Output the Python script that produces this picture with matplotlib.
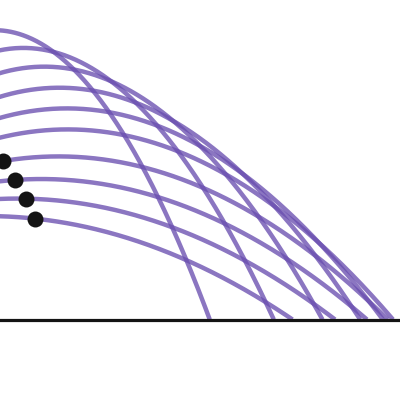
import numpy as np
import matplotlib
matplotlib.use("Agg")
import matplotlib.pyplot as plt

# Launch angles (degrees), one per trajectory
angles_deg = [21.8, 26.9, 31.9, 37.2, 43.2, 47.8, 52.4, 57.3, 62.0, 67.0]
launch_speed = 71.7      # same speed for every projectile
gravity = 9.81
launch_height = 67.3     # above the ground line
snapshot_time = 3.44     # time at which the projectile markers are shown

# visible window of the scene
view_x = (193.9, 593.9)
view_y = (-80.5, 319.5)

fig = plt.figure(figsize=(4, 4), dpi=100)
ax = fig.add_axes([0, 0, 1, 1])
ax.set_xlim(*view_x)
ax.set_ylim(*view_y)
ax.axis('off')

line_color = '#6a4fb0'
for a in angles_deg:
    th = np.radians(a)
    vx, vy = launch_speed * np.cos(th), launch_speed * np.sin(th)
    t_land = (vy + np.sqrt(vy**2 + 2 * gravity * launch_height)) / gravity
    t = np.linspace(0, t_land, 600)
    x = vx * t
    y = launch_height + vy * t - 0.5 * gravity * t**2
    ax.plot(x, y, color=line_color, alpha=0.78, lw=3.2, solid_capstyle='butt', zorder=2)

# projectile positions at the snapshot time
th = np.radians(angles_deg)
dx = launch_speed * np.cos(th) * snapshot_time
dy = launch_height + launch_speed * np.sin(th) * snapshot_time - 0.5 * gravity * snapshot_time**2
ax.plot(dx, dy, 'o', color='#141414', markersize=11.5, markeredgewidth=0, zorder=4)

# ground
ax.axhline(0, color='#141414', lw=2.3, zorder=3)

fig.savefig("out.png")
